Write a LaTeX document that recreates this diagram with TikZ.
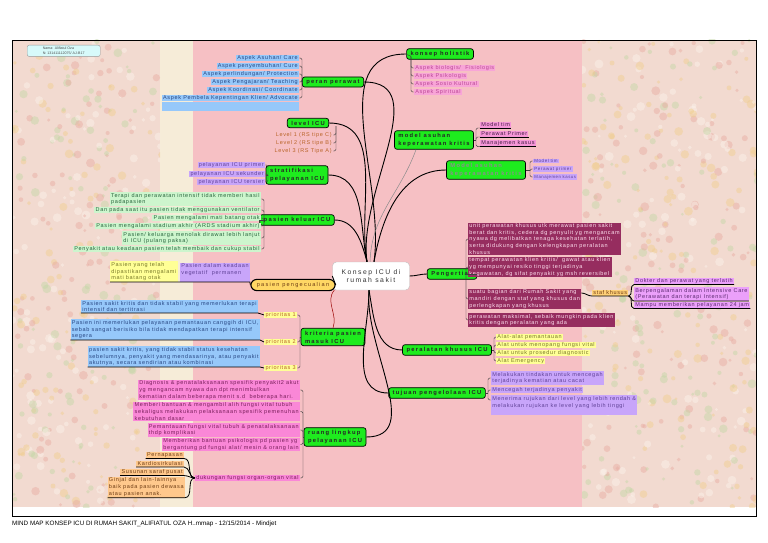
\documentclass[tikz,border=0pt]{standalone}
\usepackage{fontspec}
\setmainfont{Liberation Sans}
\newfontfamily\lf[LetterSpace=12]{Liberation Sans}
\newfontfamily\mf[LetterSpace=22]{Liberation Sans}
\usetikzlibrary{calc}
\definecolor{mgreen}{RGB}{30,235,30}
\definecolor{pinkbg}{RGB}{246,192,196}
\definecolor{patbg}{RGB}{242,218,208}
\definecolor{cream}{RGB}{246,236,216}
\definecolor{patA}{RGB}{232,170,160}
\definecolor{patB}{RGB}{240,205,140}
\definecolor{patC}{RGB}{195,215,165}
\definecolor{patD}{RGB}{252,244,236}
\definecolor{cblue}{RGB}{150,200,250}
\definecolor{tblue}{RGB}{40,70,130}
\definecolor{cpinkH}{RGB}{248,165,215}
\definecolor{tpinkH}{RGB}{185,70,150}
\definecolor{tlevel}{RGB}{185,100,40}
\definecolor{clav}{RGB}{200,165,250}
\definecolor{tlav}{RGB}{95,65,150}
\definecolor{cpinkM}{RGB}{245,150,215}
\definecolor{tdark}{RGB}{70,30,70}
\definecolor{cgreenL}{RGB}{205,245,205}
\definecolor{tgreen}{RGB}{40,100,60}
\definecolor{cmaroon}{RGB}{150,45,95}
\definecolor{tmaroon}{RGB}{255,225,240}
\definecolor{cyellow}{RGB}{255,255,150}
\definecolor{tyellow}{RGB}{120,120,40}
\definecolor{cpinkR}{RGB}{250,135,215}
\definecolor{tpinkR}{RGB}{120,30,90}
\definecolor{corange}{RGB}{255,200,140}
\definecolor{tbrown}{RGB}{110,60,20}
\definecolor{cpurpL}{RGB}{235,160,250}
\definecolor{tpurpL}{RGB}{90,40,110}
\definecolor{cpe}{RGB}{255,215,100}
\definecolor{ccyan}{RGB}{215,250,250}
\begin{document}
\begin{tikzpicture}[x=1pt,y=-1pt,
  leaf/.style={inner xsep=1.2pt, inner ysep=0.8pt, font=\lf\fontsize{5.5}{6.8}\selectfont, align=left},
  bl/.style={leaf, fill=cblue, text=tblue},
  hol/.style={leaf, fill=cpinkH, text=tpinkH},
  lvl/.style={leaf, text=tlevel},
  lav/.style={leaf, fill=clav, text=tlav},
  pm/.style={leaf, fill=cpinkM, text=tdark},
  gl/.style={leaf, fill=cgreenL, text=tgreen},
  mr/.style={leaf, fill=cmaroon, text=tmaroon},
  yl/.style={leaf, fill=cyellow, text=tyellow},
  pr/.style={leaf, fill=cpinkR, text=tpinkR},
  org/.style={leaf, fill=corange, text=tbrown},
  pl/.style={leaf, fill=cpurpL, text=tpurpL},
  mainnode/.style={draw=black, line width=0.7pt, fill=mgreen, rounded corners=2.5pt,
    font=\mf\bfseries\fontsize{5.8}{8}\selectfont, text=black!85, inner xsep=4pt, inner ysep=2.6pt, align=left},
  conn/.style={line width=0.9pt, draw=black},
  br/.style={line width=0.45pt, draw=black!75, rounded corners=1.5pt},
  ul/.style={line width=0.8pt, draw=black},
]
\useasboundingbox (0,0) rectangle (768,543);
% ---------- background ----------
\fill[white] (0,0) rectangle (768,543);
\fill[pinkbg] (12,40) rectangle (756,507);
\fill[patbg] (12,40) rectangle (160,507);
\fill[cream] (160,40) rectangle (193,507);
\fill[patbg] (582,40) rectangle (756,507);
\begin{scope}
  \clip (12,40) rectangle (160,507);
  \pgfmathsetseed{7}
  \foreach \i in {1,...,420}{
    \pgfmathsetmacro{\xx}{12+150*rnd}
    \pgfmathsetmacro{\yy}{40+467*rnd}
    \pgfmathsetmacro{\rr}{1.5+3*rnd}
    \pgfmathtruncatemacro{\cc}{int(4*rnd)}
    \ifcase\cc \def\col{patA}\or\def\col{patB}\or\def\col{patC}\else\def\col{patD}\fi
    \fill[\col, opacity=0.45] (\xx,\yy) circle (\rr pt);
  }
\end{scope}
\begin{scope}
  \clip (582,40) rectangle (756,507);
  \pgfmathsetseed{11}
  \foreach \i in {1,...,480}{
    \pgfmathsetmacro{\xx}{582+176*rnd}
    \pgfmathsetmacro{\yy}{40+467*rnd}
    \pgfmathsetmacro{\rr}{1.5+3*rnd}
    \pgfmathtruncatemacro{\cc}{int(4*rnd)}
    \ifcase\cc \def\col{patA}\or\def\col{patB}\or\def\col{patC}\else\def\col{patD}\fi
    \fill[\col, opacity=0.45] (\xx,\yy) circle (\rr pt);
  }
\end{scope}
\draw[line width=0.8pt] (12,40) rectangle (756,516);
\node[anchor=west, font=\fontsize{6.3}{7}\selectfont, inner sep=0pt] (footer) at (12,524)
  {MIND MAP KONSEP ICU DI RUMAH SAKIT\_ALIFIATUL OZA H..mmap - 12/15/2014 - Mindjet};
\node[draw=black!40, fill=ccyan, rounded corners=2pt, font=\fontsize{3.6}{4.6}\selectfont, align=left,
  text=black!70, anchor=north west, inner sep=2pt, minimum width=73pt] (name) at (27,45)
  {Nama: Alifiatul Oza\\N: 131411112075/ AJ-B17};
% ---------- center ----------
\node[draw=black!25, fill=white, rounded corners=4pt, font=\mf\fontsize{6.8}{8.5}\selectfont, align=center,
  minimum width=77pt, minimum height=28pt, text=black!80] (c) at (371,276) {Konsep ICU di\\rumah sakit};
% ---------- main nodes ----------
\node[mainnode] (pp) at (333,82) {peran perawat};
\node[mainnode] (kh) at (440,54) {konsep holistik};
\node[mainnode] (lv) at (308,123) {level ICU};
\node[mainnode] (m1) at (434,140) {model asuhan\\keperawatan kritis};
\node[mainnode] (st) at (297,175) {stratifikasi\\pelayanan ICU};
\node[mainnode, text=black!45] (m2) at (486,170) {Model asuhan\\keperawatan kritis};
\node[mainnode] (pk) at (297,220) {pasien keluar ICU};
\node[mainnode] (pg) at (452,274) {Pengertian};
\node[mainnode] (kr) at (333,337) {kriteria pasien\\masuk ICU};
\node[mainnode] (pa) at (447,350) {peralatan khusus ICU};
\node[mainnode] (tj) at (437,393) {tujuan pengelolaan ICU};
\node[mainnode] (rl) at (335,437) {ruang lingkup\\pelayanan ICU};
\node[draw=black, line width=1.1pt, fill=cpe, rounded corners=6pt, font=\mf\fontsize{5.6}{7}\selectfont,
  text=tbrown, inner xsep=6pt, inner ysep=3pt] (pe) at (293,285) {pasien pengecualian};
% ---------- center connectors ----------
\draw[conn] ($(c.north)+(-4,0)$) to[out=98,in=0] (pp.east);
\draw[conn] ($(c.north)+(3,0)$) to[out=82,in=180] (kh.west);
\draw[conn] ($(c.north)+(-4,0)$) to[out=100,in=0] (lv.east);
\draw[draw=black!45, line width=0.5pt] ($(c.north)+(-1,0)$) to[out=88,in=250] ($(m1.south)+(-18,0)$);
\draw[conn] ($(c.north)+(3,0)$) to[out=80,in=180] (m2.west);
\draw[conn] ($(c.north)+(-4,0)$) to[out=102,in=0] (st.east);
\draw[conn] ($(c.north)+(-4,0)$) to[out=105,in=0] (pk.east);
\draw[conn] (c.east) to[out=0,in=180] (pg.west);
\draw[conn] (c.west) -- (pe.east);
\draw[draw=red!60!black, line width=0.5pt] ($(c.south west)+(2,0)$) to[out=230,in=70] (kr.north);
\draw[conn] ($(c.south)+(-2,0)$) to[out=-80,in=180] (pa.west);
\draw[conn] ($(c.south)+(-2,0)$) to[out=-90,in=180] (tj.west);
\draw[conn] ($(c.south)+(-2,0)$) to[out=-95,in=0] (rl.east);
% ---------- peran perawat ----------
\node[bl, anchor=east] (pp1) at (299,58) {Aspek Asuhan/ Care};
\node[bl, anchor=east] (pp2) at (299,66) {Aspek penyembuhan/ Cure};
\node[bl, anchor=east] (pp3) at (299,74) {Aspek perlindungan/ Protection};
\node[bl, anchor=east] (pp4) at (299,82) {Aspek Pengajaran/ Teaching};
\node[bl, anchor=east] (pp5) at (299,90) {Aspek Koordinasi/ Coordinate};
\node[bl, anchor=east] (pp6) at (299,98) {Aspek Pembela Kepentingan Klien/ Advocate};
\fill[cblue] (pp6.south west) rectangle ($(pp6.south east)+(0,9)$);
\coordinate (ppH) at (302,82);
\draw[br] (pp.west) -- (ppH);
\foreach \n in {pp1,pp2,pp3,pp4,pp5,pp6} \draw[br] (ppH) |- (\n.east);
% ---------- konsep holistik ----------
\node[hol, anchor=west] (kh1) at (414,68) {Aspek biologis/ ~Fisiologis};
\node[hol, anchor=west] (kh2) at (414,76) {Aspek Psikologis};
\node[hol, anchor=west] (kh3) at (414,84) {Aspek Sosio Kultural};
\node[hol, anchor=west] (kh4) at (414,92) {Aspek Spiritual};
\coordinate (khH) at (411,57);
\draw[br] (kh.west) to[out=200,in=90] (khH);
\foreach \n in {kh1,kh2,kh3,kh4} \draw[br] (khH) |- (\n.west);
% ---------- level ICU ----------
\node[lvl, anchor=east] (lv1) at (333,135) {Level 1 (RS tipe C)};
\node[lvl, anchor=east] (lv2) at (333,143) {Level 2 (RS tipe B)};
\node[lvl, anchor=east] (lv3) at (333,151) {Level 3 (RS Tipe A)};
\coordinate (lvH) at (336,126);
\foreach \n in {lv1,lv2,lv3} \draw[br] (lvH) |- (\n.east);
% ---------- stratifikasi ----------
\node[lav, anchor=east] (st1) at (265,165) {pelayanan ICU primer};
\node[lav, anchor=east] (st2) at (265,174) {pelayanan ICU sekunder};
\node[lav, anchor=east] (st3) at (265,182) {pelayanan ICU tersier};
\coordinate (stH) at (268,175);
\draw[br] (st.west) -- (stH);
\foreach \n in {st1,st2,st3} \draw[br] (stH) |- (\n.east);
% ---------- model asuhan 1 ----------
\node[pm, anchor=west] (m11) at (480,125) {Model tim};
\node[pm, anchor=west] (m12) at (480,134) {Perawat Primer};
\node[pm, anchor=west] (m13) at (480,143) {Manajemen kasus};
\coordinate (m1H) at (476,140);
\draw[br] (m1.east) -- (m1H);
\foreach \n in {m11,m12,m13} {\draw[br] (m1H) |- (\n.south west); \draw[ul] (\n.south west) -- (\n.south east);}
% ---------- model asuhan 2 ----------
\node[lav, anchor=west, font=\lf\fontsize{4.5}{5.5}\selectfont] (m21) at (533,161) {Model tim};
\node[lav, anchor=west, font=\lf\fontsize{4.5}{5.5}\selectfont] (m22) at (533,169) {Perawat primer};
\node[lav, anchor=west, font=\lf\fontsize{4.3}{5.5}\selectfont] (m23) at (533,177) {Manajemen kasus};
\coordinate (m2H) at (530,170);
\draw[br] (m2.east) -- (m2H);
\foreach \n in {m21,m22,m23} \draw[br] (m2H) |- (\n.west);
% ---------- pasien keluar ICU ----------
\node[gl, anchor=east] (pk1) at (261,199) {Terapi dan perawatan intensif tidak memberi hasil\\padapasien};
\node[gl, anchor=east] (pk2) at (261,210) {Dan pada saat itu pasien tidak menggunakan ventilator};
\node[gl, anchor=east] (pk3) at (261,218) {Pasien mengalami mati batang otak};
\node[gl, anchor=east] (pk4) at (261,226) {Pasien mengalami stadium akhir (ARDS stadium akhir)};
\node[gl, anchor=east] (pk5) at (261,238) {Pasien/ keluarga menolak dirawat lebih lanjut\\di ICU (pulang paksa)};
\node[gl, anchor=east] (pk6) at (261,249) {Penyakit atau keadaan pasien telah membaik dan cukup stabil};
\coordinate (pkH) at (264,220);
\draw[br] (pk.west) -- (pkH);
\foreach \n in {pk1,pk2,pk3,pk4,pk5,pk6} \draw[br] (pkH) |- (\n.east);
% ---------- pasien pengecualian ----------
\node[leaf, fill=cyellow, text=tyellow, anchor=south west, minimum width=64pt] (pe1) at (110,282)
  {Pasien yang telah\\dipastikan mengalami\\mati batang otak};
\node[leaf, fill=clav, text=tlav, anchor=south west, minimum width=65pt] (pe2) at (180,282)
  {Pasien dalam keadaan\\vegetatif ~permanen\\\phantom{x}};
\draw[ul] (pe1.south west) -- (pe2.south east) to[out=0,in=180] (pe.west);
% ---------- kriteria ----------
\node[yl, anchor=east, text=tlevel] (pr1) at (297,315) {prioritas 1};
\node[yl, anchor=east, text=tlevel] (pr2) at (297,342) {prioritas 2};
\node[yl, anchor=east, text=tlevel] (pr3) at (297,368) {prioritas 3};
\coordinate (krH) at (300,337);
\draw[br] (kr.west) -- (krH);
\foreach \n in {pr1,pr2,pr3} \draw[br] (krH) |- (\n.east);
\node[bl, anchor=south east] (kp1) at (258,313) {Pasien sakit kritis dan tidak stabil yang memerlukan terapi\\intensif dan tertitrasi};
\node[bl, anchor=south east] (kp2) at (260,340) {Pasien ini memerlukan pelayanan pemantauan canggih di ICU,\\sebab sangat berisiko bila tidak mendapatkan terapi intensif\\segera};
\node[bl, anchor=south east] (kp3) at (260,367) {pasien sakit kritis, yang tidak stabil status kesehatan\\sebelumnya, penyakit yang mendasarinya, atau penyakit\\akutnya, secara sendirian atau kombinasi};
\draw[ul] (kp1.south west) -- (kp1.south east) to[out=0,in=180] (pr1.west);
\draw[ul] (kp2.south west) -- (kp2.south east) to[out=0,in=180] (pr2.west);
\draw[ul] (kp3.south west) -- (kp3.south east) to[out=0,in=180] (pr3.west);
% ---------- Pengertian ----------
\node[mr, anchor=west] (pg1) at (468,239) {unit perawatan khusus utk merawat pasien sakit\\berat dan kritis, cedera dg penyulit yg mengancam\\nyawa dg melibatkan tenaga kesehatan terlatih,\\serta didukung dengan kelengkapan peralatan\\khusus};
\node[mr, anchor=west] (pg2) at (468,267) {tempat perawatan klien kritis/ ~gawat atau klien\\yg mempunyai resiko tinggi terjadinya\\kegawatan, dg sifat penyakit yg msh reversibel};
\node[mr, anchor=west] (pg3) at (468,299) {suatu bagian dari Rumah Sakit yang\\mandiri dengan staf yang khusus dan\\perlengkapan yang khusus};
\node[mr, anchor=west] (pg4) at (468,320) {perawatan maksimal, sebaik mungkin pada klien\\kritis dengan peralatan yang ada};
\coordinate (pgH) at (466,274);
\draw[br] (pg.east) -- (pgH);
\foreach \n in {pg1,pg2,pg3,pg4} \draw[br] (pgH) |- (\n.west);
\node[org, anchor=west, fill=corange!85!yellow] (sk) at (592,293) {staf khusus};
\draw[ul] ($(pg3.east)+(0,-6)$) to[out=0,in=180] (sk.south west) -- (sk.south east);
\node[pl, anchor=west] (sk1) at (634,281) {Dokter dan perawat yang terlatih};
\node[pl, anchor=west] (sk2) at (634,294) {Berpengalaman dalam Intensive Care\\(Perawatan dan terapi Intensif)};
\node[pl, anchor=west] (sk3) at (634,305) {Mampu memberikan pelayanan 24 jam};
\foreach \n in {sk1,sk2,sk3} {\draw[ul] (sk.south east) to[out=0,in=180] (\n.south west) -- (\n.south east);}
% ---------- peralatan ----------
\node[yl, anchor=west] (pa1) at (496,337) {Alat-alat pemantauan};
\node[yl, anchor=west] (pa2) at (496,345) {Alat untuk menopang fungsi vital};
\node[yl, anchor=west] (pa3) at (496,353) {Alat untuk prosedur diagnostic};
\node[yl, anchor=west] (pa4) at (496,361) {Alat Emergency};
\coordinate (paH) at (494,350);
\draw[br] (pa.east) -- (paH);
\foreach \n in {pa1,pa2,pa3,pa4} \draw[br] (paH) |- (\n.west);
% ---------- tujuan ----------
\node[lav, anchor=west] (tj1) at (491,378) {Melakukan tindakan untuk mencegah\\terjadinya kematian atau cacat};
\node[lav, anchor=west] (tj2) at (491,390) {Mencegah terjadinya penyakit};
\node[lav, anchor=north west, inner ysep=1.5pt, minimum height=19pt, text depth=6pt] (tj3) at (491,395) {Menerima rujukan dari level yang lebih rendah \&\\melakukan rujukan ke level yang lebih tinggi};
\coordinate (tjH) at (488,393);
\draw[br] (tj.east) -- (tjH);
\draw[br] (tjH) |- (tj1.west);
\draw[br] (tjH) |- (tj2.west);
\draw[br] (tjH) |- ($(tj3.north west)+(0,5)$);
% ---------- ruang lingkup ----------
\node[pr, anchor=east] (rl1) at (300,390) {Diagnosis \& penatalaksanaan spesifik penyakit2 akut\\yg mengancam nyawa dan dpt menimbulkan\\kematian dalam beberapa menit s.d ~beberapa hari.};
\node[pr, anchor=east] (rl2) at (300,411.5) {Memberi bantuan \& mengambil alih fungsi vital tubuh\\sekaligus melakukan pelaksanaan spesifik pemenuhan\\kebutuhan dasar};
\node[pr, anchor=east] (rl3) at (300,430) {Pemantauan fungsi vital tubuh \& penatalaksanaan\\thdp komplikasi};
\node[pr, anchor=east] (rl4) at (300,444.5) {Memberikan bantuan psikologis pd pasien yg\\bergantung pd fungsi alat/ mesin \& orang lain};
\node[pr, anchor=east] (rl5) at (300,478) {dukungan fungsi organ-organ vital};
\coordinate (rlH) at (303,437);
\draw[br] (rl.west) -- (rlH);
\foreach \n in {rl1,rl2,rl3,rl4,rl5} \draw[br] (rlH) |- (\n.east);
\node[org, anchor=east] (o1) at (184,455) {Pernapasan};
\node[org, anchor=east] (o2) at (184,464) {Kardiosirkulasi};
\node[org, anchor=east] (o3) at (184,472) {Susunan saraf pusat};
\node[org, anchor=north east] (o4) at (185,477) {Ginjal dan lain-lainnya\\baik pada pasien dewasa\\atau pasien anak.};
\foreach \n in {o1,o2,o3} {\draw[ul] (\n.south west) -- (\n.south east) to[out=0,in=180] (rl5.west);}
\draw[ul] (o4.south west) -- (o4.south east) to[out=0,in=180] (rl5.west);
\end{tikzpicture}
\end{document}
